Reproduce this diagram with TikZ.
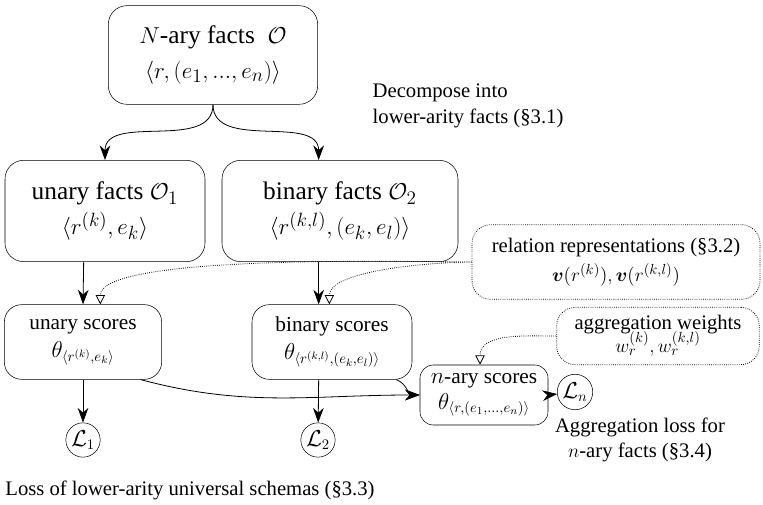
\documentclass[tikz,border=0pt]{standalone}
\usepackage{amsmath}
\usepackage{amssymb}
\usepackage{bm}
\usepackage{fontspec}
\setmainfont{Liberation Serif}
\usetikzlibrary{arrows.meta}
\begin{document}
\begin{tikzpicture}[x=0.75pt,y=-0.75pt,
            fact/.style={rectangle, draw, rounded corners=14pt, align=center, font=\fontsize{19}{23}\selectfont, inner sep=2pt},
            score/.style={rectangle, draw, rounded corners=13pt, align=center, font=\fontsize{16}{19}\selectfont, inner sep=2pt},
            param/.style={rectangle, draw, densely dotted, semithick, rounded corners=14pt, align=center, font=\fontsize{15.5}{19}\selectfont, inner sep=2pt},
            loss/.style={circle, draw, inner sep=1pt, minimum size=25pt, font=\fontsize{16}{18}\selectfont},
            caption/.style={align=center, font=\fontsize{15.5}{19}\selectfont},
            arrow/.style={semithick,-{Stealth[length=11pt,width=8pt]}},
            weak/.style={densely dotted,semithick,-{Triangle[open,length=7pt,width=7pt]}}
        ]
            \useasboundingbox (0,0) rectangle (763,505);

            % Input facts
            \node[fact, minimum width=157pt, minimum height=74pt] (nary) at (213,55) {$N$-ary facts~~$\mathcal{O}$\\[3pt] $\langle r, (e_1, ..., e_n)\rangle$};
            \node[caption, align=left, anchor=west] (decomp) at (368,106) {Decompose into\\lower-arity facts (\S3.1)};

            % Decomposed facts
            \node[fact, minimum width=150pt, minimum height=76pt] (unary) at (105,211) {unary facts $\mathcal{O}_1$\\[3pt] $\langle r^{(k)}, e_k\rangle$};
            \node[fact, minimum width=177pt, minimum height=76pt] (binary) at (340,211) {binary facts $\mathcal{O}_2$\\[3pt] $\langle r^{(k,l)}, (e_k, e_l)\rangle$};

            % Parameters
            \node[param, minimum width=216pt, minimum height=56pt] (relrep) at (616,262) {relation representations (\S3.2)\\[3pt] $\bm{v}(r^{(k)}), \bm{v}(r^{(k,l)})$};
            \node[param, minimum width=152pt, minimum height=43pt] (aggw) at (658,336) {aggregation weights\\[-3pt] $w_r^{(k)}, w_r^{(k,l)}$};

            % Scores
            \node[score, minimum width=118pt, minimum height=56pt] (uscore) at (83,342) {unary scores\\[2pt] $\theta_{\langle r^{(k)}, e_k\rangle}$};
            \node[score, minimum width=120pt, minimum height=56pt] (bscore) at (332,342) {binary scores\\[2pt] $\theta_{\langle r^{(k,l)}, (e_k, e_l)\rangle}$};
            \node[score, minimum width=96pt, minimum height=45pt, inner sep=1pt, rounded corners=10pt] (nscore) at (484,395) {$n$-ary scores\\ $\theta_{\langle r, (e_1, ..., e_n)\rangle}$};

            % Losses
            \node[loss] (l1) at (83,440) {$\mathcal{L}_1$};
            \node[loss] (l2) at (318,440) {$\mathcal{L}_2$};
            \node[loss] (ln) at (575,392) {$\mathcal{L}_n$};
            \node[caption] (lowloss) at (190,490) {Loss of lower-arity universal schemas (\S3.3)};
            \node[caption] (aggloss) at (640,440) {Aggregation loss for\\$n$-ary facts (\S3.4)};

            % Decomposition
            \draw[arrow] (nary.south) to[out=-90,in=90] (unary.north);
            \draw[arrow] (nary.south) to[out=-90,in=90] ([xshift=-16pt]binary.north);
            \draw[arrow] ([xshift=-16pt]unary.south) -- (uscore.north);
            \draw[arrow] ([xshift=-16pt]binary.south) -- ([xshift=-10pt]bscore.north);

            % Parameters feeding scores
            \draw[weak] (relrep.west) to[out=180,in=90,looseness=0.35] ([xshift=13pt]uscore.north);
            \draw[weak] (relrep.west) to[out=180,in=90,looseness=0.6] ([xshift=-2pt]bscore.north);
            \draw[weak] (aggw.west) to[out=180,in=90] ([xshift=-3pt]nscore.north);

            % Losses and aggregation
            \draw[arrow] (uscore.south) -- (l1);
            \draw[arrow] ([xshift=-10pt]bscore.south) -- (l2);
            \draw[arrow] ([xshift=-16pt]uscore.south east) to[out=-15,in=180] (nscore.west);
            \draw[arrow] ([xshift=-12pt]bscore.south east) to[out=-20,in=180] (nscore.west);
            \draw[arrow] (nscore.east) -- (ln);
        \end{tikzpicture}
\end{document}
